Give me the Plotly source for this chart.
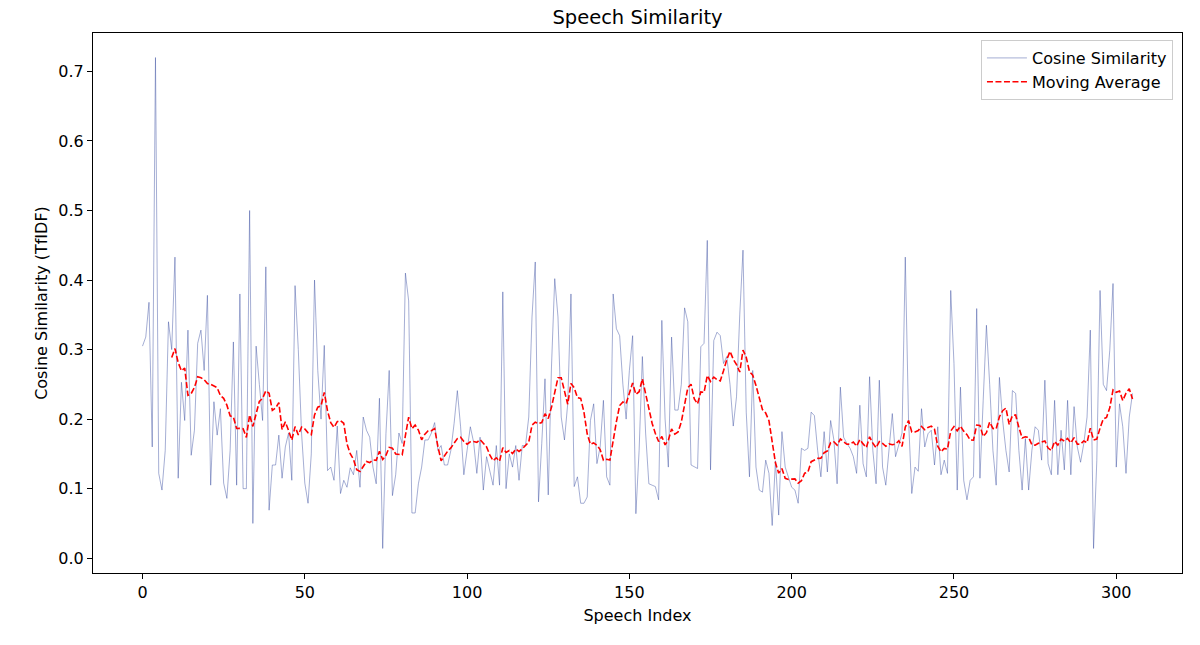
import pandas as pd
import plotly.graph_objects as go

similarity = [
    0.305, 0.318, 0.368, 0.160, 0.720, 0.122, 0.098, 0.155, 0.340, 0.300,
    0.433, 0.115, 0.253, 0.198, 0.328, 0.148, 0.184, 0.309, 0.328, 0.270,
    0.378, 0.105, 0.225, 0.177, 0.215, 0.108, 0.086, 0.155, 0.311, 0.105,
    0.380, 0.100, 0.100, 0.500, 0.050, 0.305, 0.250, 0.198, 0.419, 0.069,
    0.134, 0.134, 0.177, 0.115, 0.160, 0.180, 0.112, 0.392, 0.300, 0.180,
    0.108, 0.079, 0.150, 0.400, 0.270, 0.200, 0.306, 0.126, 0.131, 0.112,
    0.190, 0.093, 0.112, 0.102, 0.130, 0.120, 0.155, 0.102, 0.203, 0.184,
    0.174, 0.131, 0.107, 0.230, 0.014, 0.179, 0.270, 0.090, 0.120, 0.180,
    0.165, 0.410, 0.370, 0.065, 0.065, 0.107, 0.131, 0.170, 0.170, 0.180,
    0.195, 0.155, 0.162, 0.134, 0.134, 0.155, 0.194, 0.241, 0.189, 0.120,
    0.155, 0.189, 0.167, 0.122, 0.174, 0.098, 0.146, 0.126, 0.105, 0.162,
    0.105, 0.383, 0.100, 0.150, 0.131, 0.162, 0.112, 0.162, 0.162, 0.203,
    0.347, 0.426, 0.081, 0.165, 0.258, 0.091, 0.275, 0.402, 0.347, 0.203,
    0.170, 0.222, 0.380, 0.103, 0.117, 0.079, 0.079, 0.088, 0.198, 0.222,
    0.136, 0.160, 0.227, 0.117, 0.105, 0.380, 0.330, 0.320, 0.250, 0.200,
    0.270, 0.320, 0.064, 0.155, 0.290, 0.180, 0.107, 0.105, 0.103, 0.084,
    0.342, 0.200, 0.131, 0.318, 0.213, 0.213, 0.250, 0.360, 0.340, 0.134,
    0.131, 0.129, 0.304, 0.309, 0.457, 0.127, 0.313, 0.325, 0.320, 0.280,
    0.290, 0.250, 0.190, 0.232, 0.350, 0.443, 0.210, 0.117, 0.270, 0.131,
    0.098, 0.095, 0.141, 0.122, 0.047, 0.140, 0.062, 0.182, 0.131, 0.115,
    0.102, 0.098, 0.079, 0.158, 0.155, 0.158, 0.210, 0.205, 0.155, 0.117,
    0.182, 0.124, 0.198, 0.170, 0.107, 0.246, 0.174, 0.165, 0.158, 0.146,
    0.122, 0.220, 0.136, 0.117, 0.261, 0.155, 0.107, 0.256, 0.131, 0.105,
    0.155, 0.208, 0.146, 0.165, 0.180, 0.433, 0.200, 0.093, 0.131, 0.125,
    0.215, 0.160, 0.179, 0.184, 0.134, 0.189, 0.120, 0.141, 0.122, 0.385,
    0.280, 0.098, 0.246, 0.112, 0.084, 0.112, 0.117, 0.359, 0.115, 0.227,
    0.335, 0.250, 0.155, 0.105, 0.260, 0.198, 0.155, 0.124, 0.241, 0.237,
    0.155, 0.098, 0.172, 0.098, 0.155, 0.189, 0.184, 0.141, 0.256, 0.136,
    0.120, 0.227, 0.120, 0.184, 0.127, 0.227, 0.120, 0.218, 0.160, 0.138,
    0.165, 0.203, 0.328, 0.014, 0.140, 0.385, 0.250, 0.241, 0.299, 0.395,
    0.131, 0.222, 0.189, 0.122, 0.203, 0.237,
]
speech_index = list(range(len(similarity)))
window = 10
moving_avg = pd.Series(similarity).rolling(window).mean().tolist()

x_ticks = [0, 50, 100, 150, 200, 250, 300]
y_ticks = [0.0, 0.1, 0.2, 0.3, 0.4, 0.5, 0.6, 0.7]

n = speech_index[-1]
xr = [-0.05 * n, n * 1.05]
ymin, ymax = min(similarity), max(similarity)
pad = 0.05 * (ymax - ymin)
yr = [ymin - pad, ymax + pad]

font = "DejaVu Sans, Liberation Sans, sans-serif"

fig = go.Figure()
fig.add_trace(go.Scatter(
    x=speech_index, y=similarity, mode="lines", name="Cosine Similarity",
    line=dict(color="rgba(55,75,160,0.5)", width=0.9),
))
fig.add_trace(go.Scatter(
    x=speech_index, y=moving_avg, mode="lines", name="Moving Average",
    line=dict(color="red", width=1.6, dash="6px,2.5px"),
))

axis_common = dict(
    showline=True, linecolor="black", linewidth=1, mirror=True,
    ticks="outside", ticklen=5, tickwidth=1, tickcolor="black",
    showgrid=False, zeroline=False,
    tickfont=dict(size=16, color="black", family=font),
)
fig.update_xaxes(range=xr, tickvals=x_ticks,
                 title=dict(text="Speech Index", font=dict(size=16, color="black", family=font), standoff=8),
                 **axis_common)
fig.update_yaxes(range=yr, tickvals=y_ticks, tickformat=".1f",
                 title=dict(text="Cosine Similarity (TfIDF)", font=dict(size=16, color="black", family=font), standoff=6),
                 **axis_common)

fig.update_layout(
    width=1200, height=645,
    margin=dict(l=93, r=18, t=33, b=72),
    paper_bgcolor="white", plot_bgcolor="white",
    font=dict(family=font, color="black"),
    title=dict(text="Speech Similarity", x=0.5, xref="paper", xanchor="center",
               y=1 - 17 / 645, yref="container", yanchor="middle",
               font=dict(size=19.5, color="black", family=font)),
    legend=dict(x=0.9917, y=0.987, xanchor="right", yanchor="top",
                bgcolor="rgba(255,255,255,0.8)", bordercolor="#cccccc", borderwidth=1,
                tracegroupgap=0, itemwidth=40,
                font=dict(size=16, color="black", family=font)),
    showlegend=True,
)

fig.write_html("out.html")
